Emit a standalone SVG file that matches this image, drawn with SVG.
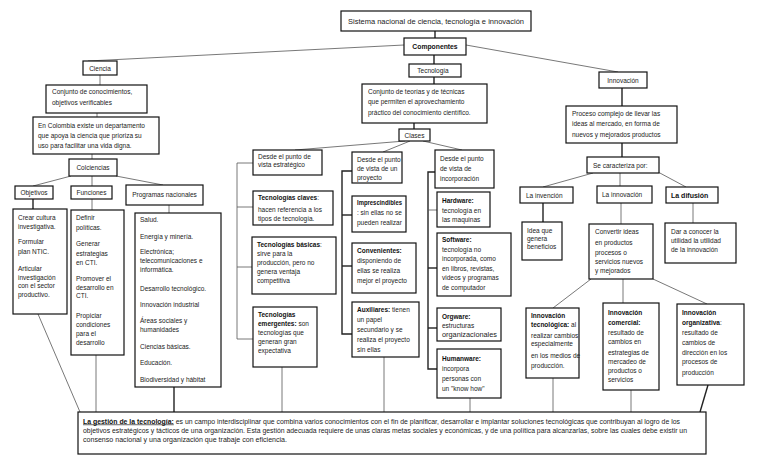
<svg xmlns="http://www.w3.org/2000/svg" width="768" height="466" viewBox="0 0 768 466">
<style>
.b{fill:#fff;stroke:#111;stroke-width:1.2}
.t{font-family:"Liberation Sans",Arial,sans-serif;font-size:6.5px;fill:#222}
.c{text-anchor:middle}
.w{font-weight:bold;fill:#111}
.l{stroke:#555;stroke-width:0.8;fill:none}
.k{stroke:#222;stroke-width:1.4;fill:none}
</style>
<rect width="768" height="466" fill="#fff"/>
<g id="connectors">
<line class="k" x1="435" y1="31" x2="435" y2="38"/>
<line class="l" x1="404" y1="45" x2="88" y2="61"/>
<line class="l" x1="466" y1="45" x2="618" y2="72"/>
<line class="k" x1="434" y1="55" x2="434" y2="64"/>
<line class="k" x1="434" y1="77" x2="434" y2="84"/>
<line class="k" x1="414" y1="123" x2="414" y2="129"/>
<line class="l" x1="405" y1="141" x2="295" y2="150"/>
<line class="l" x1="410" y1="141" x2="383" y2="152"/>
<line class="l" x1="423" y1="141" x2="462" y2="150"/>
<polyline class="l" points="253,163 237,163 237,339 253,339"/>
<line class="l" x1="237" y1="207" x2="253" y2="207"/>
<line class="l" x1="237" y1="267" x2="252" y2="267"/>
<polyline class="k" points="352,171 342,171 342,334 352,334"/>
<line class="k" x1="342" y1="215" x2="352" y2="215"/>
<line class="k" x1="342" y1="266" x2="352" y2="266"/>
<polyline class="k" points="435,172 428,172 428,369 437,369"/>
<line class="l" x1="428" y1="210" x2="437" y2="210"/>
<line class="k" x1="428" y1="268" x2="437" y2="268"/>
<line class="k" x1="428" y1="328" x2="437" y2="328"/>
<line class="l" x1="100" y1="75" x2="100" y2="85"/>
<line class="l" x1="97" y1="113" x2="97" y2="117"/>
<line class="l" x1="92" y1="154" x2="92" y2="159"/>
<line class="l" x1="71" y1="176" x2="33" y2="186"/>
<line class="l" x1="92" y1="176" x2="92" y2="186"/>
<line class="l" x1="116" y1="176" x2="163" y2="185"/>
<line class="k" x1="33" y1="199" x2="33" y2="209"/>
<line class="l" x1="92" y1="199" x2="92" y2="210"/>
<line class="l" x1="169" y1="205" x2="169" y2="213"/>
<line class="l" x1="38" y1="314" x2="80" y2="412"/>
<line class="l" x1="96" y1="355" x2="96" y2="412"/>
<line class="k" x1="174" y1="387" x2="174" y2="412"/>
<line class="l" x1="282" y1="367" x2="282" y2="412"/>
<line class="l" x1="384" y1="357" x2="384" y2="412"/>
<line class="l" x1="470" y1="398" x2="470" y2="412"/>
<line class="l" x1="553" y1="378" x2="553" y2="412"/>
<line class="l" x1="631" y1="390" x2="631" y2="412"/>
<line class="k" x1="708" y1="385" x2="700" y2="412"/>
<line class="k" x1="622" y1="88" x2="622" y2="106"/>
<line class="k" x1="622" y1="143" x2="622" y2="157"/>
<line class="l" x1="593" y1="173" x2="543" y2="187"/>
<line class="l" x1="620" y1="173" x2="620" y2="186"/>
<line class="l" x1="658" y1="172" x2="686" y2="187"/>
<line class="k" x1="543" y1="203" x2="543" y2="222"/>
<line class="l" x1="621" y1="203" x2="621" y2="224"/>
<line class="l" x1="693" y1="203" x2="693" y2="223"/>
<line class="l" x1="591" y1="279" x2="553" y2="308"/>
<line class="l" x1="623" y1="279" x2="623" y2="303"/>
<line class="l" x1="653" y1="279" x2="707" y2="304"/>
</g>
<g id="title"><rect class="b" x="341" y="11" width="190" height="20"/><text class="t c" x="436" y="23.5" style="font-size:7px" textLength="176" lengthAdjust="spacingAndGlyphs">Sistema nacional de ciencia, tecnología e innovación</text></g>
<g id="componentes"><rect class="b" x="404" y="38" width="62" height="17"/><text class="t c w" x="435" y="49" style="font-size:6.8px">Componentes</text></g>
<g id="ciencia"><rect class="b" x="83" y="61" width="34" height="14"/><text class="t c" x="100" y="70.5">Ciencia</text></g>
<g id="ciencia-def"><rect class="b" x="46" y="85" width="101" height="28"/><text class="t" x="52" y="94">Conjunto de conocimientos,</text><text class="t" x="52" y="105">objetivos verificables</text></g>
<g id="colombia"><rect class="b" x="33" y="117" width="126" height="37"/><text class="t" x="38" y="127.5">En Colombia existe un departamento</text><text class="t" x="38" y="137.5">que apoya la ciencia que prioriza su</text><text class="t" x="38" y="147.5">uso para facilitar una vida digna.</text></g>
<g id="colciencias"><rect class="b" x="69" y="159" width="48" height="17"/><text class="t c" x="93" y="170">Colciencias</text></g>
<g id="objetivos"><rect class="b" x="15" y="186" width="38" height="13"/><text class="t c" x="34" y="195">Objetivos</text></g>
<g id="funciones"><rect class="b" x="71" y="186" width="41" height="13"/><text class="t c" x="91.5" y="195">Funciones</text></g>
<g id="programas"><rect class="b" x="126" y="185" width="77" height="20"/><text class="t c" x="164.5" y="197">Programas nacionales</text></g>
<g id="objetivos-list"><rect class="b" x="13" y="209" width="54" height="105"/>
<text class="t" x="18" y="220">Crear cultura</text><text class="t" x="18" y="229">investigativa.</text>
<text class="t" x="18" y="244">Formular</text><text class="t" x="18" y="254">plan NTIC.</text>
<text class="t" x="18" y="270.5">Articular</text><text class="t" x="18" y="279.5">investigación</text><text class="t" x="18" y="288">con el sector</text><text class="t" x="18" y="296.5">productivo.</text></g>
<g id="funciones-list"><rect class="b" x="71" y="210" width="53" height="145"/>
<text class="t" x="76" y="220">Definir</text><text class="t" x="76" y="229.5">políticas.</text>
<text class="t" x="76" y="246">Generar</text><text class="t" x="76" y="255.5">estrategias</text><text class="t" x="76" y="265">en CTI.</text>
<text class="t" x="76" y="281">Promover el</text><text class="t" x="76" y="289.5">desarrollo en</text><text class="t" x="76" y="298">CTI.</text>
<text class="t" x="76" y="318">Propiciar</text><text class="t" x="76" y="327">condiciones</text><text class="t" x="76" y="335.5">para el</text><text class="t" x="76" y="345">desarrollo</text></g>
<g id="programas-list"><rect class="b" x="135" y="213" width="86" height="174"/>
<text class="t" x="140" y="222">Salud.</text>
<text class="t" x="140" y="239">Energía y minería.</text>
<text class="t" x="140" y="254">Electrónica;</text><text class="t" x="140" y="263">telecomunicaciones e</text><text class="t" x="140" y="272">informática.</text>
<text class="t" x="140" y="290.5">Desarrollo tecnológico.</text>
<text class="t" x="140" y="307">Innovación industrial</text>
<text class="t" x="140" y="323">Áreas sociales y</text><text class="t" x="140" y="332">humanidades</text>
<text class="t" x="140" y="349">Ciencias básicas.</text>
<text class="t" x="140" y="365">Educación.</text>
<text class="t" x="140" y="381.5">Biodiversidad y hábitat</text></g>
<g id="tecnologia"><rect class="b" x="409" y="64" width="52" height="13"/><text class="t c" x="433" y="73">Tecnología</text></g>
<g id="tecnologia-def"><rect class="b" x="362" y="84" width="125" height="39"/><text class="t" x="368" y="93.5">Conjunto de teorías y de técnicas</text><text class="t" x="368" y="104">que permiten el aprovechamiento</text><text class="t" x="368" y="114.5">práctico del conocimiento científico.</text></g>
<g id="clases"><rect class="b" x="399" y="129" width="31" height="12"/><text class="t c" x="414.5" y="137.5">Clases</text></g>
<g id="estrategico"><rect class="b" x="253" y="150" width="69" height="25"/><text class="t" x="258" y="158.5">Desde el punto de</text><text class="t" x="258" y="167">vista estratégico</text></g>
<g id="tec-claves"><rect class="b" x="253" y="191" width="80" height="34"/><text class="t" x="258" y="199.5"><tspan class="w">Tecnologías claves</tspan>:</text><text class="t" x="258" y="212">hacen referencia a los</text><text class="t" x="258" y="221">tipos de tecnología.</text></g>
<g id="tec-basicas"><rect class="b" x="252" y="237" width="84" height="57"/><text class="t" x="257" y="246.5"><tspan class="w">Tecnologías básicas</tspan>:</text><text class="t" x="257" y="255.5">sirve para la</text><text class="t" x="257" y="264.5">producción, pero no</text><text class="t" x="257" y="273.5">genera ventaja</text><text class="t" x="257" y="282.5">competitiva</text></g>
<g id="tec-emergentes"><rect class="b" x="253" y="307" width="64" height="60"/><text class="t w" x="258" y="316.5">Tecnologías</text><text class="t" x="258" y="325.5"><tspan class="w">emergentes:</tspan> son</text><text class="t" x="258" y="334.5">tecnologías que</text><text class="t" x="258" y="343.5">generan gran</text><text class="t" x="258" y="352.5">expectativa</text></g>
<g id="proyecto"><rect class="b" x="352" y="152" width="50" height="31"/><text class="t" x="357" y="161.5">Desde el punto</text><text class="t" x="357" y="170.5">de vista de un</text><text class="t" x="357" y="179.5">proyecto</text></g>
<g id="imprescindibles"><rect class="b" x="352" y="196" width="54" height="36"/><text class="t w" x="357" y="204.5" textLength="45" lengthAdjust="spacingAndGlyphs">Imprescindibles</text><text class="t" x="357" y="214.5">: sin ellas no se</text><text class="t" x="357" y="224.5">pueden realizar</text></g>
<g id="convenientes"><rect class="b" x="352" y="243" width="64" height="50"/><text class="t w" x="357" y="252.5">Convenientes:</text><text class="t" x="357" y="262.5">disponiendo de</text><text class="t" x="357" y="272.5">ellas se realiza</text><text class="t" x="357" y="282.5">mejor el proyecto</text></g>
<g id="auxiliares"><rect class="b" x="352" y="302" width="67" height="55"/><text class="t" x="357" y="311.5"><tspan class="w">Auxiliares:</tspan> tienen</text><text class="t" x="357" y="322">un papel</text><text class="t" x="357" y="332">secundario y se</text><text class="t" x="357" y="342">realiza el proyecto</text><text class="t" x="357" y="352">sin ellas</text></g>
<g id="incorporacion"><rect class="b" x="435" y="150" width="59" height="38"/><text class="t" x="440" y="160.5">Desde el punto</text><text class="t" x="440" y="170.5">de vista de</text><text class="t" x="440" y="180.5">incorporación</text></g>
<g id="hardware"><rect class="b" x="437" y="192" width="53" height="35"/><text class="t w" x="442" y="202.5">Hardware:</text><text class="t" x="442" y="212.5">tecnología en</text><text class="t" x="442" y="221.5">las maquinas</text></g>
<g id="software"><rect class="b" x="437" y="233" width="74" height="63"/><text class="t w" x="442" y="241.5">Software:</text><text class="t" x="442" y="251.5">tecnología no</text><text class="t" x="442" y="260.5">incorporada, como</text><text class="t" x="442" y="270.5">en libros, revistas,</text><text class="t" x="442" y="279.5">videos y programas</text><text class="t" x="442" y="289.5">de computador</text></g>
<g id="orgware"><rect class="b" x="437" y="308" width="64" height="33"/><text class="t w" x="442" y="318.5">Orgware:</text><text class="t" x="442" y="328">estructuras</text><text class="t" x="442" y="337" textLength="55" lengthAdjust="spacingAndGlyphs">organizacionales</text></g>
<g id="humanware"><rect class="b" x="437" y="349" width="64" height="49"/><text class="t w" x="442" y="360.5">Humanware:</text><text class="t" x="442" y="370.5">incorpora</text><text class="t" x="442" y="380.5">personas con</text><text class="t" x="442" y="390.5">un "know how"</text></g>
<g id="innovacion"><rect class="b" x="599" y="72" width="48" height="16"/><text class="t c" x="623" y="82.5">Innovación</text></g>
<g id="innovacion-def"><rect class="b" x="566" y="106" width="111" height="37"/><text class="t" x="572" y="115.5">Proceso complejo de llevar las</text><text class="t" x="572" y="126">ideas al mercado, en forma de</text><text class="t" x="572" y="136.5">nuevos y mejorados productos</text></g>
<g id="caracteriza"><rect class="b" x="587" y="157" width="72" height="16"/><text class="t" x="593" y="167.5">Se caracteriza por:</text></g>
<g id="invencion"><rect class="b" x="520" y="187" width="53" height="16"/><text class="t" x="526" y="197.5">La invención</text></g>
<g id="la-innovacion"><rect class="b" x="597" y="186" width="55" height="17"/><text class="t" x="602" y="197">La innovación</text></g>
<g id="difusion"><rect class="b" x="666" y="187" width="52" height="16"/><text class="t w" x="671" y="197.5" style="font-size:7px">La difusión</text></g>
<g id="idea"><rect class="b" x="522" y="222" width="40" height="38"/><text class="t" x="527" y="232.5">Idea que</text><text class="t" x="527" y="240.5">genera</text><text class="t" x="527" y="249">beneficios</text></g>
<g id="convertir"><rect class="b" x="589" y="224" width="64" height="55"/><text class="t" x="595" y="234">Convertir ideas</text><text class="t" x="595" y="245">en productos</text><text class="t" x="595" y="254.5">procesos o</text><text class="t" x="595" y="263.5">servicios nuevos</text><text class="t" x="595" y="272.5">y mejorados</text></g>
<g id="dar"><rect class="b" x="665" y="223" width="71" height="40"/><text class="t" x="671" y="233.5">Dar a conocer la</text><text class="t" x="671" y="242.5">utilidad la utilidad</text><text class="t" x="671" y="251.5">de la innovación</text></g>
<g id="inn-tecnologica"><rect class="b" x="526" y="308" width="53" height="70"/><text class="t w" x="531" y="317.5">Innovación</text><text class="t" x="531" y="327"><tspan class="w">tecnológica:</tspan> al</text><text class="t" x="531" y="337.5">realizar cambios</text><text class="t" x="531" y="346">especialmente</text><text class="t" x="531" y="357.5">en los medios de</text><text class="t" x="531" y="367.5">producción.</text></g>
<g id="inn-comercial"><rect class="b" x="603" y="303" width="56" height="87"/><text class="t w" x="608" y="314.5">Innovación</text><text class="t w" x="608" y="324.5">comercial:</text><text class="t" x="608" y="334.5">resultado de</text><text class="t" x="608" y="343.5">cambios en</text><text class="t" x="608" y="354.5">estrategias de</text><text class="t" x="608" y="363.5">mercadeo de</text><text class="t" x="608" y="372.5">productos o</text><text class="t" x="608" y="381.5">servicios</text></g>
<g id="inn-organizativa"><rect class="b" x="677" y="304" width="67" height="81"/><text class="t w" x="682" y="314.5">Innovación</text><text class="t" x="682" y="324.5"><tspan class="w">organizativa</tspan>:</text><text class="t" x="682" y="334.5">resultado de</text><text class="t" x="682" y="344.5">cambios de</text><text class="t" x="682" y="354.5">dirección en los</text><text class="t" x="682" y="363.5">procesos de</text><text class="t" x="682" y="374.5">producción</text></g>
<g id="gestion"><rect class="b" x="78" y="412" width="628" height="42"/>
<text class="t" x="83" y="423.5" textLength="597" lengthAdjust="spacingAndGlyphs"><tspan class="w" text-decoration="underline">La gestión de la tecnología:</tspan> es un campo interdisciplinar que combina varios conocimientos con el fin de planificar, desarrollar e implantar soluciones tecnológicas que contribuyan al logro de los</text>
<text class="t" x="83" y="433" textLength="604" lengthAdjust="spacingAndGlyphs">objetivos estratégicos y tácticos de una organización. Esta gestión adecuada requiere de unas claras metas sociales y económicas, y de una política para alcanzarlas, sobre las cuales debe existir un</text>
<text class="t" x="83" y="442" textLength="204" lengthAdjust="spacingAndGlyphs">consenso nacional y una organización que trabaje con eficiencia.</text></g>
</svg>
